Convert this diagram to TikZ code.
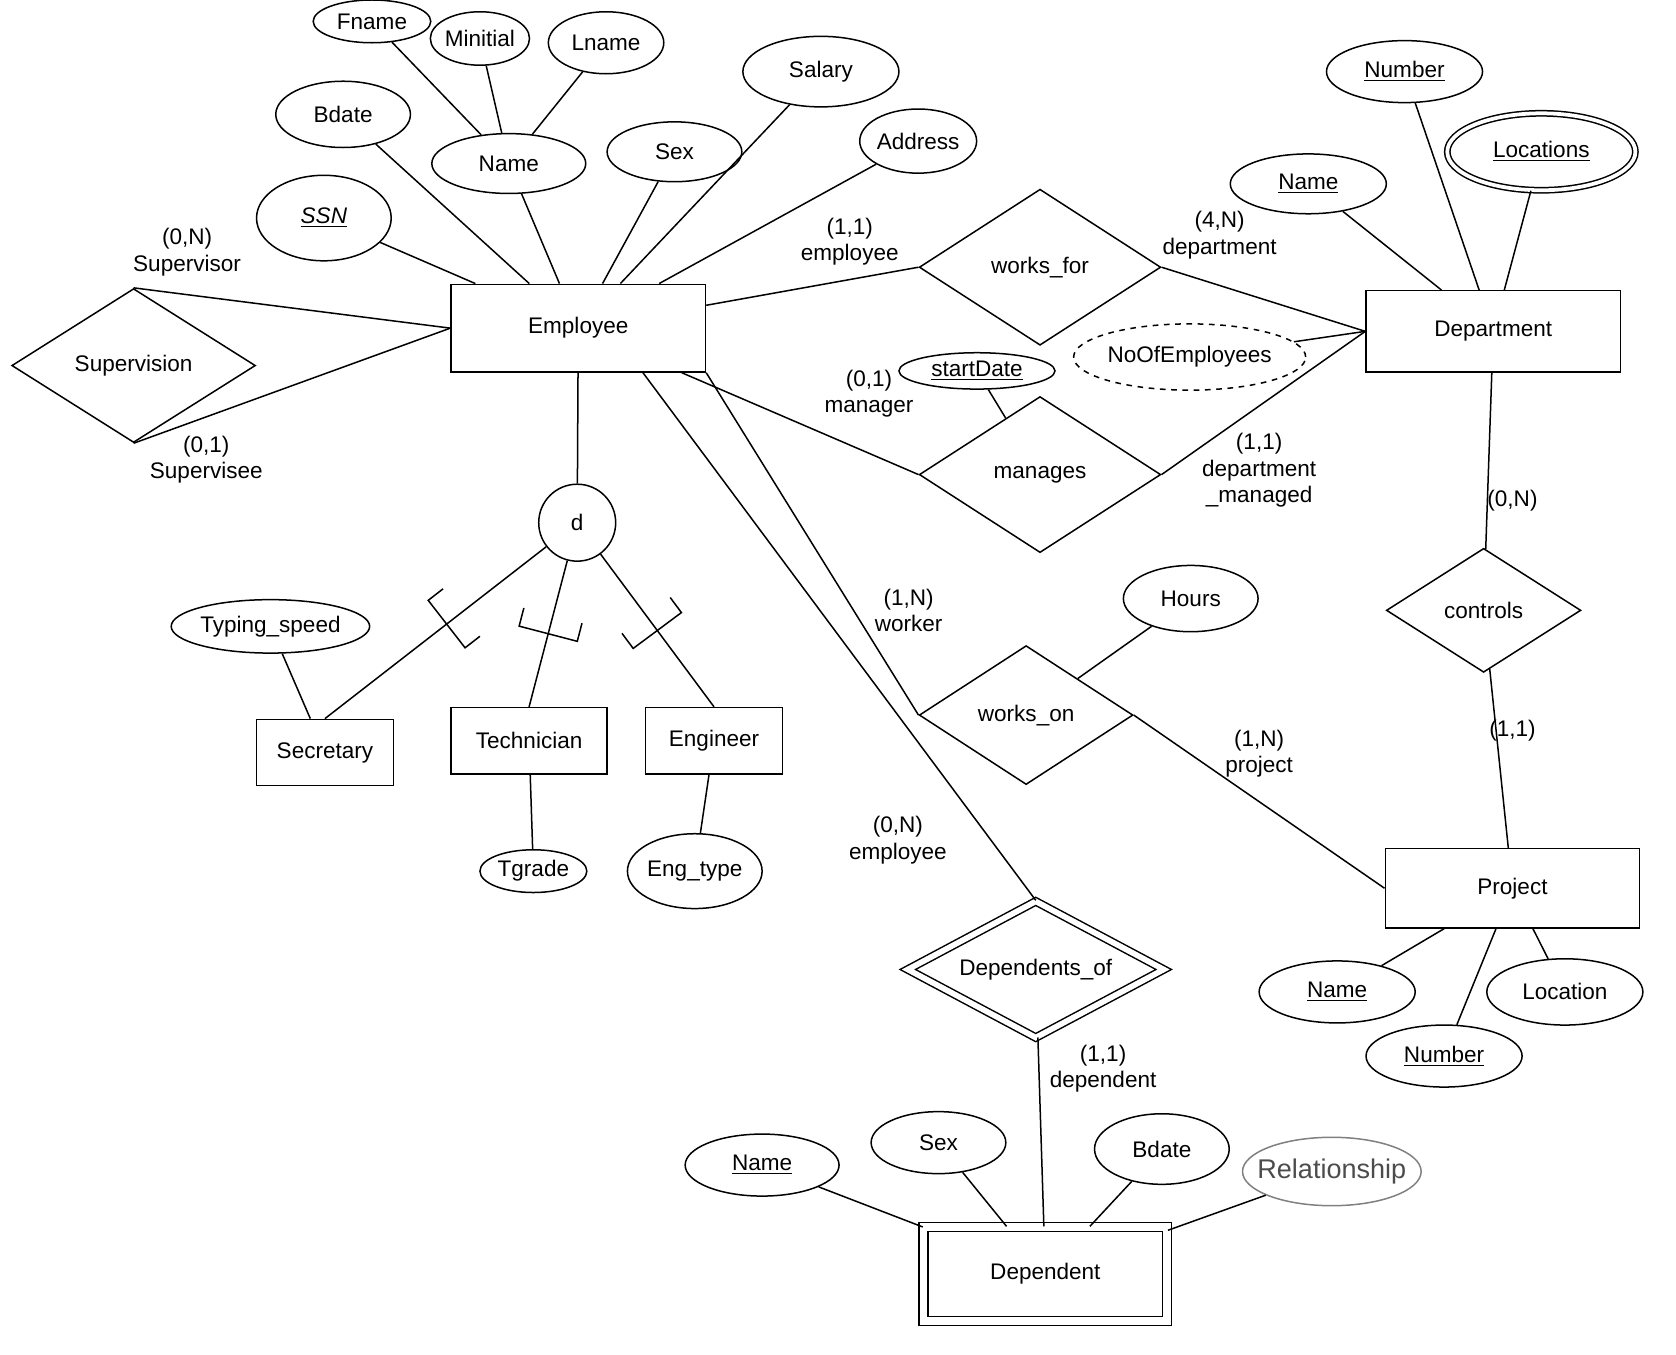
\documentclass[tikz,border=0pt]{standalone}
\usepackage{fontspec}
\setmainfont{Liberation Sans}
\usetikzlibrary{shapes.geometric, shapes.misc, positioning, decorations.markings, calc}
\tikzset{
	attr/.style 2 args={draw, ellipse, minimum width=#1*0.02cm, minimum height=#2*0.02cm, inner sep=0pt},
	ent/.style 2 args={draw, rectangle, minimum width=#1*0.02cm, minimum height=#2*0.02cm},
	rel/.style 2 args={draw, diamond, aspect=2, minimum width=#1*0.02cm, minimum height=#2*0.02cm, inner sep=0pt},
	card/.style={align=center, font=\large},
	subset/.style={
		decoration={
			markings,
			mark=at position {#1} with {
				\draw (-10pt,-16pt) -- (0,-16pt) -- (0,16pt) -- (-10pt,16pt);
			}
		},
		postaction={decorate}
	},
}
\begin{document}
\begin{tikzpicture}[x=0.02cm, y=-0.02cm, font=\large, thick]
\useasboundingbox (0,0) rectangle (1568,1267);
% Employee and its attributes
\node[ent={238}{82}] (emp) at (541,307) {Employee};
\node[attr={110}{40}] (fname) at (348,20) {Fname};
\node[attr={90}{50}] (minit) at (449,36) {Minitial};
\node[attr={108}{58}] (lname) at (567,40) {Lname};
\node[attr={126}{62}] (bdate) at (321,107) {Bdate};
\node[attr={144}{56}] (ename) at (476,153) {Name};
\node[attr={126}{56}] (sex) at (631,142) {Sex};
\node[attr={146}{66}] (salary) at (768,67) {Salary};
\node[attr={108}{60}] (addr) at (859,132) {Address};
\node[attr={126}{80}] (ssn) at (303,204) {\textit{\underline{SSN}}};

\draw (fname) -- (ename);
\draw (minit) -- (ename);
\draw (lname) -- (ename);
\draw (ename) -- (emp);
\draw (bdate) -- (emp);
\draw (ssn) -- (emp);
\draw (sex) -- (emp);
\draw (salary) -- (emp);
\draw (addr) -- (emp);

% Supervision
\node[rel={228}{144}] (sup) at (125,342) {Supervision};
\draw (sup.north) -- (emp.west);
\draw (sup.south) -- (emp.west);
\node[card] at (175,236) {(0,N)\\Supervisor};
\node[card] at (193,430) {(0,1)\\Supervisee};

% Department
\node[ent={238}{76}] (dept) at (1397,310) {Department};
\node[attr={146}{58}] (dnum) at (1314,67) {\underline{Number}};
\node[attr={176}{72}, double, double distance=2pt] (dloc) at (1442,142) {\underline{Locations}};
\node[attr={146}{56}] (dname) at (1224,172) {\underline{Name}};
\draw (dnum) -- (dept);
\draw (dloc) -- (dept);
\draw (dname) -- (dept);

\node[rel={226}{146}] (wfor) at (973,250) {works\_for};
\draw (emp) -- (wfor.west);
\draw (wfor.east) -- (dept.west);
\node[card] at (795,226) {(1,1)\\employee};
\node[card] at (1141,220) {(4,N)\\department};

\node[rel={226}{146}] (mng) at (973,444) {manages};
\node[attr={146}{34}] (sdate) at (914,347) {\underline{startDate}};
\node[attr={180}{62}, dashed] (noemp) at (1113,334) {NoOfEmployees};
\draw (emp) -- (mng.west);
\draw (mng.east) -- (dept.west);
\draw (sdate) -- (mng);
\draw (noemp) -- (dept.west);
\node[card] at (813,368) {(0,1)\\manager};
\node[card] at (1178,440) {(1,1)\\department\\\_managed};

% Specialisation
\node[draw, circle, minimum size=72*0.02cm] (d) at (540,489) {d};
\draw (emp) -- (d);
\node[ent={128}{62}] (sec) at (304,704) {Secretary};
\node[ent={146}{62}] (tech) at (495,693) {Technician};
\node[ent={128}{62}] (eng) at (668,693) {Engineer};
\node[attr={172}{50}] (tspeed) at (253,586) {Typing\_speed};
\node[attr={100}{40}] (tgrade) at (499,815) {Tgrade};
\node[attr={126}{70}] (etype) at (650,815) {Eng\_type};
\draw[subset=0.45] (d) -- (sec.north);
\draw[subset=0.5] (d) -- (tech.north);
\draw[subset=0.5] (d) -- (eng.north);
\draw (tspeed) -- (sec);
\draw (tech) -- (tgrade);
\draw (eng) -- (etype);

% Project
\node[ent={238}{74}] (proj) at (1415,831) {Project};
\node[attr={146}{58}] (pname) at (1251,928) {\underline{Name}};
\node[attr={146}{62}] (ploc) at (1464,928) {Location};
\node[attr={146}{58}] (pnum) at (1351,988) {\underline{Number}};
\draw (pname) -- (proj);
\draw (ploc) -- (proj);
\draw (pnum) -- (proj);

\node[rel={182}{116}] (ctrl) at (1388,571) {controls};
\draw (dept) -- (ctrl);
\draw (ctrl) -- (proj);
\node[card] at (1415,468) {(0,N)};
\node[card] at (1415,684) {(1,1)};

\node[rel={200}{130}] (won) at (960,669) {works\_on};
\node[attr={126}{62}] (hours) at (1114,560) {Hours};
\draw (emp.south east) -- (won.west);
\draw (won.east) -- (proj.west);
\draw (hours) -- (won);
\node[card] at (850,571) {(1,N)\\worker};
\node[card] at (1178,705) {(1,N)\\project};

% Dependent
\node[rel={240}{128}, double, double distance=3pt] (depof) at (969,907) {Dependents\_of};
\node[ent={228}{88}, double, double distance=4pt] (dep) at (978,1192) {Dependent};
\node[attr={144}{58}] (depname) at (713,1090) {\underline{Name}};
\node[attr={126}{58}] (depsex) at (878,1069) {Sex};
\node[attr={126}{66}] (depbdate) at (1087,1075) {Bdate};
\node[attr={166}{64}, draw=gray, text=gray!60!black, font=\Large, inner xsep=-6pt] (rship) at (1246,1096) {Relationship};
\coordinate (empdep) at (601,348);
\draw (empdep) -- (depof.north);
\draw (depof) -- (dep);
\draw (depname) -- (dep);
\draw (depsex) -- (dep);
\draw (depbdate) -- (dep);
\draw (rship) -- (dep);
\node[card] at (840,786) {(0,N)\\employee};
\node[card] at (1032,1000) {(1,1)\\dependent};
\end{tikzpicture}
\end{document}
